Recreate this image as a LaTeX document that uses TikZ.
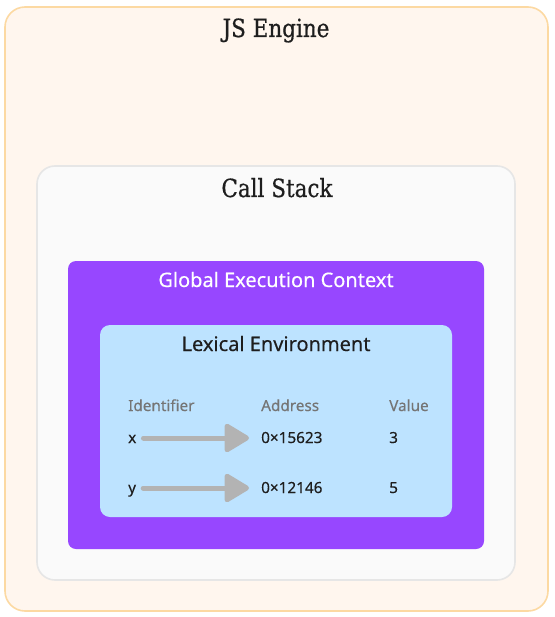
\documentclass[tikz,border=0pt]{standalone}
\usepackage{fontspec}
\setmainfont{DejaVu Serif}[FakeStretch=0.86,FakeBold=0.6]
\newfontfamily\uisans{Noto Sans}[FakeBold=0.35]
\usetikzlibrary{arrows.meta}
\definecolor{engfill}{HTML}{FFF6EE}
\definecolor{engdraw}{HTML}{FCD9A2}
\definecolor{csfill}{HTML}{FAFAFA}
\definecolor{csdraw}{HTML}{E6E6E6}
\definecolor{gecfill}{HTML}{9747FF}
\definecolor{lexfill}{HTML}{BDE3FF}
\definecolor{darktext}{HTML}{1E1E1E}
\definecolor{graytext}{HTML}{757575}
\definecolor{arrowgray}{HTML}{B3B3B3}
\tikzset{
  box/.style={rectangle, inner sep=0pt, line width=1.6pt},
  serifttl/.style={anchor=base, inner sep=0pt, text=darktext, font=\fontsize{25}{28}\selectfont},
  sansttl/.style={anchor=base, inner sep=0pt, font=\uisans\fontsize{20}{23}\selectfont},
  cell/.style={anchor=base west, inner sep=0pt, text=darktext, font=\uisans\fontsize{15.3}{18}\selectfont},
  hdr/.style={cell, text=graytext},
  ptr/.style={draw=arrowgray, line width=5pt, line cap=round,
    -{Triangle[length=27pt,width=31pt,round]}, shorten <=7pt, shorten >=12pt},
}
\begin{document}
\begin{tikzpicture}[x=1pt,y=-1pt]
\useasboundingbox (0,0) rectangle (554,617);
% boxes
\node[box, draw=engdraw, fill=engfill, rounded corners=20pt,
  minimum width=543pt, minimum height=604pt] (engine) at (276.5,309) {};
\node[box, draw=csdraw, fill=csfill, rounded corners=18pt,
  minimum width=478pt, minimum height=414pt] (stack) at (276,373) {};
\node[box, fill=gecfill, rounded corners=8pt,
  minimum width=416pt, minimum height=288pt] (gec) at (276,405) {};
\node[box, fill=lexfill, rounded corners=10pt,
  minimum width=352pt, minimum height=192pt] (lex) at (276,421) {};
% titles
\node[serifttl] (tengine) at (276,37) {JS Engine};
\node[serifttl] (tstack) at (277,197) {Call Stack};
\node[sansttl, text=white] (tgec) at (276,287) {Global Execution Context};
\node[sansttl, text=darktext] (tlex) at (276,351) {Lexical Environment};
% table
\node[hdr] (hid) at (128,411) {Identifier};
\node[hdr] (haddr) at (261,411) {Address};
\node[hdr] (hval) at (389,411) {Value};
\node[cell] (idx) at (128,443) {x};
\node[cell] (addrx) at (261,443) {0×15623};
\node[cell] (valx) at (389,443) {3};
\node[cell] (idy) at (128,493) {y};
\node[cell] (addry) at (261,493) {0×12146};
\node[cell] (valy) at (389,493) {5};
% arrows
\draw[ptr] (idx.east |- 0,438) -- (addrx.west |- 0,438);
\draw[ptr] (idy.east |- 0,488) -- (addry.west |- 0,488);
\end{tikzpicture}
\end{document}
